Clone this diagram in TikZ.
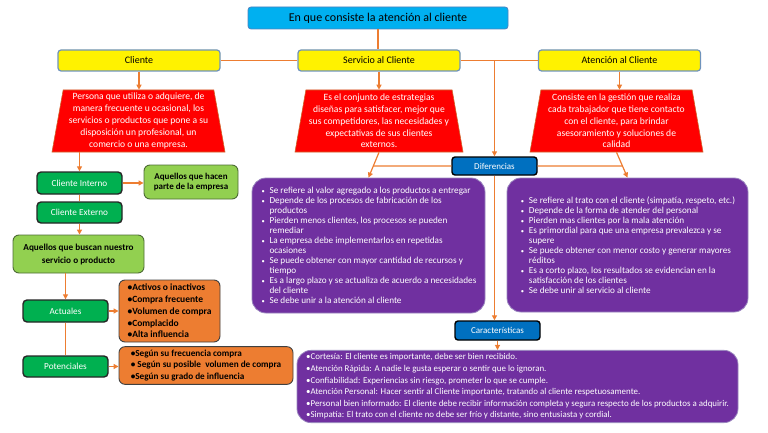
\documentclass[tikz,border=0pt]{standalone}
\usepackage{fontspec}
\setmainfont{Carlito}
\usetikzlibrary{shapes.geometric,arrows.meta,calc}
\definecolor{lineor}{HTML}{ED7D31}
\definecolor{titleblue}{HTML}{00B0F0}
\definecolor{titleborder}{HTML}{4F81BD}
\definecolor{hdrborder}{HTML}{6F93BC}
\definecolor{trapred}{HTML}{FF0000}
\definecolor{trapborder}{HTML}{D0642A}
\definecolor{grn}{HTML}{00B050}
\definecolor{lgrn}{HTML}{92D050}
\definecolor{lgrnborder}{HTML}{4D6B35}
\definecolor{orfill}{HTML}{ED7D31}
\definecolor{orborder}{HTML}{404040}
\definecolor{purp}{HTML}{7030A0}
\definecolor{purpborder}{HTML}{9A86BE}
\definecolor{bluebox}{HTML}{0070C0}
\newcommand\pbul{\makebox[9pt][l]{\hspace{1pt}{\fontsize{6.5}{6.5}\selectfont\textbullet}}}
\newcommand\pind{\hspace*{9pt}}
\begin{document}
\begin{tikzpicture}[x=1pt,y=-1pt,
  conn/.style={draw=lineor, line width=1.2pt},
  arr/.style={conn, -{Triangle[length=5pt,width=5pt]}},
  titlebox/.style={rectangle, rounded corners=3pt, fill=titleblue, draw=titleborder, line width=0.8pt, minimum width=260pt, minimum height=22pt, font=\fontsize{12}{14}\selectfont},
  hdr/.style={rectangle, rounded corners=3pt, fill=yellow, draw=hdrborder, line width=1.2pt, minimum width=162pt, minimum height=21pt, font=\fontsize{10}{12}\selectfont},
  trap/.style={trapezium, trapezium angle=79, trapezium stretches body, fill=trapred, draw=trapborder, line width=0.6pt, text=white, align=center, font=\fontsize{9.6}{11.8}\selectfont, minimum height=62pt, inner sep=1pt},
  gbox/.style={rectangle, rounded corners=4pt, fill=grn, draw=black!85, line width=1.4pt, text=white, minimum width=85pt, minimum height=22pt, font=\fontsize{9.2}{11}\selectfont},
  lgbox/.style={rectangle, rounded corners=6pt, fill=lgrn, draw=lgrnborder, line width=0.9pt, align=center, font=\bfseries\fontsize{9}{10.5}\selectfont},
  orbox/.style={rectangle, rounded corners=6pt, fill=orfill, draw=orborder, line width=0.9pt, align=left, font=\bfseries\fontsize{9.5}{11.7}\selectfont},
  pbox/.style={rectangle, rounded corners=14pt, fill=purp, draw=purpborder, line width=0.8pt, text=white, align=left, font=\fontsize{9.2}{10}\selectfont},
  bbox/.style={rectangle, rounded corners=3pt, fill=bluebox, draw=black, line width=1.4pt, text=white, minimum width=85pt, minimum height=18pt, font=\fontsize{9}{11}\selectfont}
]
\useasboundingbox (0,0) rectangle (768,433);

% top
\node[titlebox] (title) at (378,18) {En que consiste la atención al cliente};
\node[hdr] (cliente) at (139,60.5) {Cliente};
\node[hdr] (servicio) at (379,60.5) {Servicio al Cliente};
\node[hdr] (atencion) at (619.5,60.5) {Atención al Cliente};

% trapezoids
\node[trap, minimum width=173pt] (t1) at (138.5,121) {Persona que utiliza o adquiere, de\\ manera frecuente u ocasional, los\\ servicios o productos que pone a su\\ disposición un profesional, un\\ comercio o una empresa.};
\node[trap, minimum width=168pt] (t2) at (379,121) {Es el conjunto de estrategias\\ diseñas para satisfacer, mejor que\\ sus competidores, las necesidades y\\ expectativas de sus clientes\\ externos.};
\node[trap, minimum width=173pt] (t3) at (616.5,121) {Consiste en la gestión que realiza\\ cada trabajador que tiene contacto\\ con el cliente, para brindar\\ asesoramiento y soluciones de\\ calidad};

% left column
\node[gbox] (interno) at (79.5,183) {Cliente Interno};
\node[lgbox, minimum width=94pt, minimum height=34pt] (hacen) at (191,182) {Aquellos que hacen\\ parte de la empresa};
\node[gbox, minimum height=21pt] (externo) at (79.5,212.5) {Cliente Externo};
\node[lgbox, minimum width=131pt, minimum height=38pt, font=\bfseries\fontsize{9.2}{13}\selectfont] (buscan) at (78.5,254) {Aquellos que buscan nuestro\\ servicio o producto};
\node[gbox] (actuales) at (65.5,311) {Actuales};
\node[gbox, minimum height=21pt] (potenciales) at (65.5,366.5) {Potenciales};
\node[orbox, minimum width=101pt, minimum height=62pt] (or1) at (169.5,311) {•Activos o inactivos\\ •Compra frecuente\\ •Volumen de compra\\ •Complacido\\ •Alta influencia};
\node[orbox, minimum width=174pt, minimum height=35pt, font=\bfseries\fontsize{9.2}{11.5}\selectfont] (or2) at (206,365.5) {•Según su frecuencia compra\\ • Según su posible \ volumen de compra\\ •Según su grado de influencia};

% middle
\node[bbox] (dif) at (494.5,166) {Diferencias};
\node[pbox, minimum width=233pt, minimum height=135pt] (lp) at (368.5,245.5) {\pbul Se refiere al valor agregado a los productos a entregar\\ \pbul Depende de los procesos de fabricación de los\\ \pind productos\\ \pbul Pierden menos clientes, los procesos se pueden\\ \pind remediar\\ \pbul La empresa debe implementarlos en repetidas\\ \pind ocasiones\\ \pbul Se puede obtener con mayor cantidad de recursos y\\ \pind tiempo\\ \pbul Es a largo plazo y se actualiza de acuerdo a necesidades\\ \pind del cliente\\ \pbul Se debe unir a la atención al cliente};
\node[pbox, minimum width=241pt, minimum height=134pt] (rp) at (627.5,245) {\pbul Se refiere al trato con el cliente (simpatía, respeto, etc.)\\ \pbul Depende de la forma de atender del personal\\ \pbul Pierden mas clientes por la mala atención\\ \pbul Es primordial para que una empresa prevalezca y se\\ \pind supere\\ \pbul Se puede obtener con menor costo y generar mayores\\ \pind réditos\\ \pbul Es a corto plazo, los resultados se evidencian en la\\ \pind satisfacción de los clientes\\ \pbul Se debe unir al servicio al cliente};
\node[bbox, minimum height=19pt] (car) at (497.5,330.5) {Características};
\node[pbox, minimum width=441pt, minimum height=71pt, font=\fontsize{8.9}{11.6}\selectfont] (bp) at (517.5,386.5) {•Cortesía: El cliente es importante, debe ser bien recibido.\\ •Atención Rápida: A nadie le gusta esperar o sentir que lo ignoran.\\ •Confiabilidad: Experiencias sin riesgo, prometer lo que se cumple.\\ •Atención Personal: Hacer sentir al Cliente importante, tratando al cliente respetuosamente.\\ •Personal bien informado: El cliente debe recibir información completa y segura respecto de los productos a adquirir.\\ •Simpatía: El trato con el cliente no debe ser frío y distante, sino entusiasta y cordial.};

% connectors
\draw[conn] (title.south) -- (title.south |- servicio.north);
\draw[conn] (cliente) -- (servicio);
\draw[conn] (servicio) -- (atencion);
\coordinate (j1) at (dif.north |- servicio.east);
\draw[arr] (j1) -- (dif.north);
\draw[arr] (cliente.south) -- (cliente.south |- t1.north);
\draw[arr] (servicio.south) -- (servicio.south |- t2.north);
\draw[arr] (atencion.south) -- (atencion.south |- t3.north);
\draw[arr] (t1.south -| interno.north) -- (interno.north);
\draw[arr] (interno.east) -- (interno.east -| hacen.west);
\draw[conn] (interno) -- (externo);
\draw[arr] (externo.south) -- (externo.south |- buscan.north);
\draw[arr] (buscan.south -| actuales.north) -- (actuales.north);
\draw[conn] (actuales) -- (potenciales);
\draw[arr] (actuales.east) -- (actuales.east -| or1.west);
\draw[arr] (potenciales.east) -- (potenciales.east -| or2.west);
\draw[arr] (t2.south) -- (lp.north);
\draw[arr] (t3.south) -- (rp.north);
\draw[conn] (dif.west) -- (intersection of t2.south--lp.north and dif.west--dif.east);
\draw[conn] (dif.east) -- (intersection of t3.south--rp.north and dif.west--dif.east);
\draw[arr] (dif.south) -- (dif.south |- car.north);
\draw[arr] (car.south) -- (car.south |- bp.north);
\end{tikzpicture}
\end{document}
